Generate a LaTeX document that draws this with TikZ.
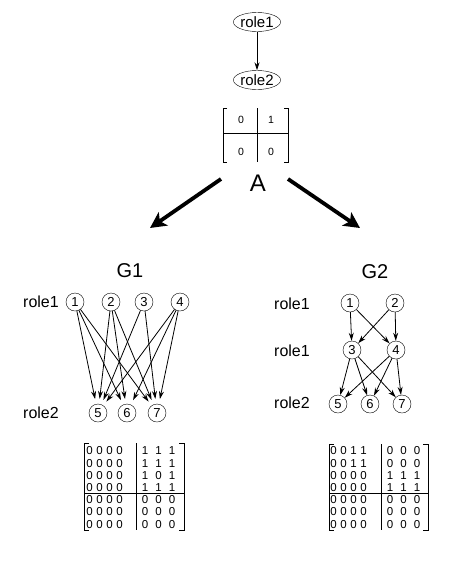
\documentclass[tikz,border=0pt]{standalone}
\usepackage{fontspec}
\setmainfont{Liberation Sans}
\usetikzlibrary{arrows.meta,shapes.geometric}
\begin{document}
\begin{tikzpicture}[x=1pt,y=-1pt,
  ell/.style={draw, ellipse, inner sep=0pt, minimum width=46pt, minimum height=19pt, font=\fontsize{15}{15}\selectfont},
  vtx/.style={draw, circle, inner sep=0pt, minimum size=18pt, font=\fontsize{13}{13}\selectfont},
  lbl/.style={font=\fontsize{16}{16}\selectfont},
  ttl/.style={font=\fontsize{20}{20}\selectfont},
  dig/.style={inner sep=0pt, font=\fontsize{11.5}{11.5}\selectfont},
  sdig/.style={inner sep=0pt, font=\fontsize{10.5}{10.5}\selectfont},
  arr/.style={-{Stealth[length=8pt,width=5pt]}, line width=0.8pt},
  bigarr/.style={line width=3.8pt, -{Stealth[length=16pt,width=16pt,inset=4pt]}},
  brk/.style={line width=0.9pt}
]
\useasboundingbox (0,0) rectangle (453,566);
\fill[white] (0,0) rectangle (453,566);

% top
\node[ell] (r1) at (257,22) {role1};
\node[ell] (r2) at (257,80) {role2};
\draw[arr] (r1) -- (r2);

% matrix A
\draw[brk] (227,108) -- (223,108) -- (223,162) -- (227,162);
\draw[brk] (284,108) -- (288,108) -- (288,162) -- (284,162);
\draw[brk] (223,133) -- (288,133);
\draw[brk] (257,108) -- (257,162);
\node[sdig] (a11) at (241,120) {0};
\node[sdig] (a12) at (271,120) {1};
\node[sdig] (a21) at (241,152) {0};
\node[sdig] (a22) at (271,152) {0};
\node[font=\fontsize{24}{24}\selectfont] (A) at (258,183) {A};

\coordinate (la) at (221,179);
\coordinate (lb) at (150,228);
\coordinate (ra) at (288,179);
\coordinate (rb) at (360,228);
\draw[bigarr] (la) -- (lb);
\draw[bigarr] (ra) -- (rb);

% G1
\node[ttl] (g1) at (130,271) {G1};
\node[lbl] (g1r1) at (41,302) {role1};
\node[lbl] (g1r2) at (41,413) {role2};
\node[vtx] (a1) at (75,302) {1};
\node[vtx] (a2) at (111,302) {2};
\node[vtx] (a3) at (144,302) {3};
\node[vtx] (a4) at (180,302) {4};
\node[vtx] (a5) at (98,413) {5};
\node[vtx] (a6) at (127,413) {6};
\node[vtx] (a7) at (157,413) {7};
\foreach \s/\t in {1/5,1/6,1/7,2/5,2/6,2/7,3/5,3/7,4/5,4/6,4/7}
  \draw[arr, shorten >=5pt] (a\s) -- (a\t);

% G2
\node[ttl] (g2) at (375,272) {G2};
\node[lbl] (g2r1) at (292,304) {role1};
\node[lbl] (g2r1b) at (292,351) {role1};
\node[lbl] (g2r2) at (292,403) {role2};
\node[vtx] (b1) at (350,303) {1};
\node[vtx] (b2) at (395,303) {2};
\node[vtx] (b3) at (352,350) {3};
\node[vtx] (b4) at (396,350) {4};
\node[vtx] (b5) at (338,404) {5};
\node[vtx] (b6) at (370,404) {6};
\node[vtx] (b7) at (402,404) {7};
\foreach \s/\t in {1/3,1/4,2/3,2/4,3/5,3/6,3/7,4/5,4/6,4/7}
  \draw[arr] (b\s) -- (b\t);

% matrix G1
\draw[brk] (89,443) -- (84,443) -- (84,530) -- (89,530);
\draw[brk] (179,443) -- (184,443) -- (184,530) -- (179,530);
\draw[brk] (84,493) -- (184,493);
\draw[brk] (136,443) -- (136,530);
\foreach \row [count=\r] in {{0,0,0,0,1,1,1},{0,0,0,0,1,1,1},{0,0,0,0,1,0,1},{0,0,0,0,1,1,1},{0,0,0,0,0,0,0},{0,0,0,0,0,0,0},{0,0,0,0,0,0,0}}
  \foreach \v [count=\c] in \row {
    \pgfmathsetmacro\xx{\c<5 ? 89.5+10*(\c-1) : 145+13.5*(\c-5)}
    \node[dig] (m-\r-\c) at (\xx,{451+12.2*(\r-1)}) {\v};
  }

% matrix G2
\draw[brk] (334,444) -- (329,444) -- (329,530) -- (334,530);
\draw[brk] (423,444) -- (428,444) -- (428,530) -- (423,530);
\draw[brk] (329,493) -- (428,493);
\draw[brk] (381,444) -- (381,530);
\foreach \row [count=\r] in {{0,0,1,1,0,0,0},{0,0,1,1,0,0,0},{0,0,0,0,1,1,1},{0,0,0,0,1,1,1},{0,0,0,0,0,0,0},{0,0,0,0,0,0,0},{0,0,0,0,0,0,0}}
  \foreach \v [count=\c] in \row {
    \pgfmathsetmacro\xx{\c<5 ? 333.5+10*(\c-1) : 390+13.5*(\c-5)}
    \node[dig] (n-\r-\c) at (\xx,{451+12.2*(\r-1)}) {\v};
  }
\end{tikzpicture}
\end{document}
